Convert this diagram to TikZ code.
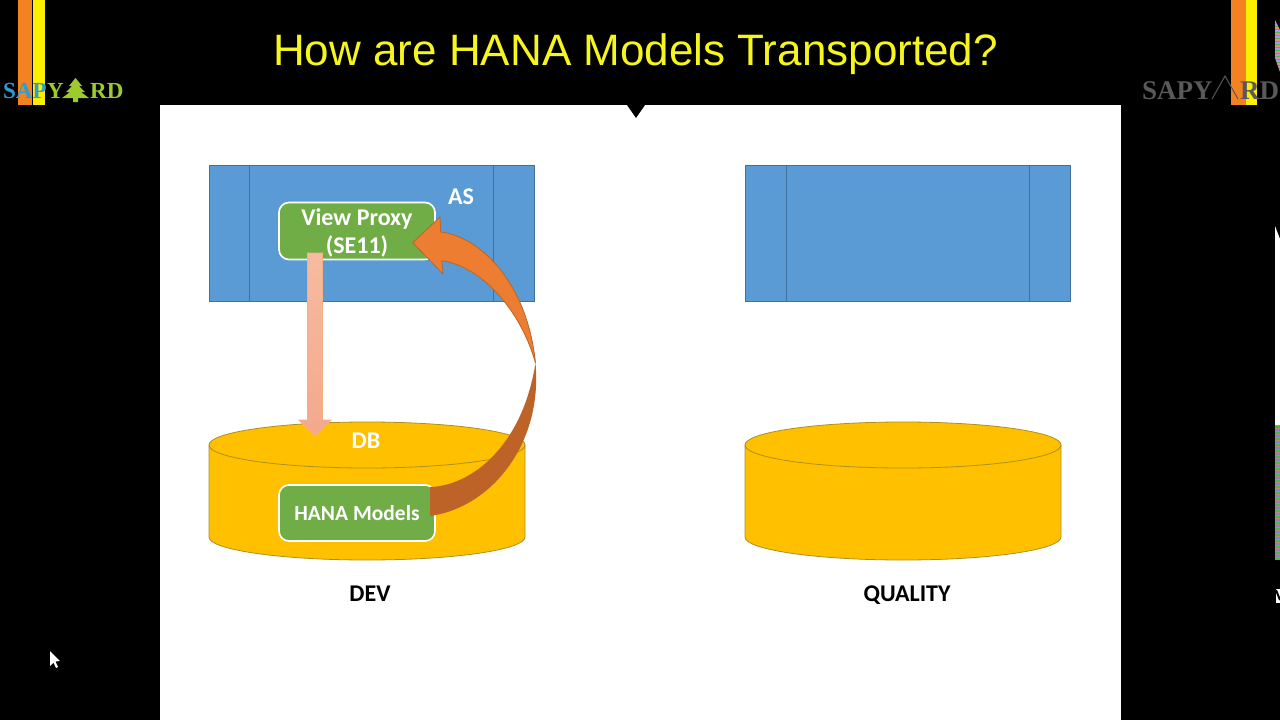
\documentclass[tikz,border=0pt]{standalone}
\usepackage{fontspec}
\setmainfont{Carlito}
\newfontfamily\titlefont{Liberation Sans}
\newfontfamily\logofont{Liberation Serif}
\usetikzlibrary{calc}
\definecolor{asblue}{HTML}{5B9BD5}
\definecolor{asline}{HTML}{41719C}
\definecolor{dbgold}{HTML}{FFC000}
\definecolor{dbline}{HTML}{AD8F22}
\definecolor{boxgreen}{HTML}{70AD47}
\definecolor{arrorange}{HTML}{ED7D31}
\definecolor{arrbrown}{HTML}{BE6328}
\definecolor{arrline}{HTML}{B8662A}
\definecolor{paletop}{HTML}{F6BBA0}
\definecolor{palebot}{HTML}{F4A88C}
\definecolor{palerim}{HTML}{F4B183}
\definecolor{stripeor}{HTML}{F58220}
\definecolor{stripeye}{HTML}{FBEE00}
\definecolor{titleyellow}{HTML}{F6F61E}
\definecolor{logoblue}{HTML}{2A9FD6}
\definecolor{logogreen}{HTML}{9BCB2D}
\definecolor{ghost}{HTML}{595959}
\tikzset{
  asrect/.style={fill=asblue,draw=asline,line width=0.8pt},
  asdiv/.style={draw=asline,line width=0.8pt},
  dbshape/.style={fill=dbgold,draw=dbline,line width=0.8pt},
  dbrim/.style={draw=dbline,line width=0.8pt},
  greenbox/.style={fill=boxgreen,draw=white,line width=1.6pt,rounded corners=10pt,
    align=center,text=white,inner sep=0pt},
  whitelabel/.style={text=white,font=\fontsize{24}{26}\selectfont\bfseries,inner sep=0pt},
  blacklabel/.style={text=black,font=\fontsize{24}{26}\selectfont\bfseries,inner sep=0pt},
  logotext/.style={font=\fontsize{23}{25}\logofont\bfseries,inner sep=0pt,anchor=base west},
  ghosttext/.style={text=ghost,font=\fontsize{27}{27}\logofont\bfseries,inner sep=0pt,anchor=base west},
}
\newcommand{\dbcylinder}{%
  \draw[dbshape] (209,445) -- (209,537)
    .. controls (209,549.7) and (279.7,560) .. (367,560)
    .. controls (454.3,560) and (525,549.7) .. (525,537)
    -- (525,445)
    .. controls (525,432.3) and (454.3,422) .. (367,422)
    .. controls (279.7,422) and (209,432.3) .. (209,445) -- cycle;
  \draw[dbrim] (209,445)
    .. controls (209,457.7) and (279.7,468) .. (367,468)
    .. controls (454.3,468) and (525,457.7) .. (525,445);
}
\begin{document}
\begin{tikzpicture}[x=1pt,y=-1pt]
\useasboundingbox (0,0) rectangle (1280,720);
\fill[black] (0,0) rectangle (1280,720);
\fill[white] (160,105) rectangle (1121,720);
% notch
\fill[black] (627,105) -- (645,105) -- (636,118) -- cycle;
% title
\node[text=titleyellow,font=\fontsize{44}{48}\titlefont,inner sep=0pt,anchor=base] (title) at (635.5,65) {How are HANA Models Transported?};
% left logo stripes
\fill[stripeor] (18,0) rectangle (32,105);
\fill[stripeye] (33,0) rectangle (44.5,105);
\node[logotext,text=logoblue] (lsap) at (3,98) {SAP};
\node[logotext,text=logogreen] (ly) at (47,98) {Y};
\fill[logogreen] (75.5,78) -- (82,86) -- (79,86) -- (85,92) -- (81,92) -- (89,98) -- (78,98) -- (78,102) -- (73,102) -- (73,98) -- (62,98) -- (70,92) -- (66,92) -- (72,86) -- (69,86) -- cycle;
\node[logotext,text=logogreen] (lrd) at (90,98) {RD};
% right logo stripes
\fill[stripeor] (1231,0) rectangle (1245.5,105);
\fill[stripeye] (1246,0) rectangle (1257,105);
\begin{scope}
\clip (1130,70) rectangle (1280,105);
\node[ghosttext] (rsap) at (1142,99) {SAPY};
\draw[ghost,line width=1pt] (1212,99) -- (1225,76) -- (1238,99);
\node[ghosttext] (rrd) at (1240,99) {RD};
\end{scope}
% right edge artefacts
\begin{scope}
\clip (1275,20) -- (1280,30) -- (1280,72) -- (1275,58) -- cycle;
\foreach \i in {0,...,17}{
  \fill[red!50!white]  (1275,{19+3*\i}) rectangle (1280,{20+3*\i});
  \fill[green!50!gray] (1275,{20+3*\i}) rectangle (1280,{21+3*\i});
  \fill[blue!40!white] (1275,{21+3*\i}) rectangle (1280,{22+3*\i});
}
\end{scope}
\fill[white] (1275,226) -- (1280,239) -- (1280,425) -- (1275,425) -- cycle;
\foreach \i in {0,...,44}{
  \fill[red!40!gray!70!white]  (1275,{425+3*\i}) rectangle (1280,{426+3*\i});
  \fill[green!50!gray]         (1275,{426+3*\i}) rectangle (1280,{427+3*\i});
  \fill[blue!40!gray!70!white] (1275,{427+3*\i}) rectangle (1280,{428+3*\i});
}
\fill[white] (1276,589) rectangle (1280,603);
\draw[black,line width=2pt] (1276,590) -- (1280,600);
% AS boxes
\draw[asrect] (209.5,165.5) rectangle (534,301.5);
\draw[asdiv] (249.5,165.5) -- (249.5,301.5) (493,165.5) -- (493,301.5);
\draw[asrect] (745.5,165.5) rectangle (1070.5,301.5);
\draw[asdiv] (786.5,165.5) -- (786.5,301.5) (1029.5,165.5) -- (1029.5,301.5);
% cylinders
\dbcylinder
\begin{scope}[xshift=536pt]
\dbcylinder
\end{scope}
% green boxes
\node[greenbox,minimum width=156pt,minimum height=57pt,font=\fontsize{24}{28}\selectfont\bfseries] (proxy) at (357,231) {\rule{0pt}{20pt}View Proxy\\(SE11)};
\node[greenbox,minimum width=156pt,minimum height=56pt,font=\fontsize{21.5}{24}\selectfont\bfseries] (hana) at (357,513) {HANA Models};
% labels
\node[whitelabel] (as) at (461,197) {AS};
\node[whitelabel] (db) at (366,441) {DB};
\node[blacklabel] (dev) at (370,594) {DEV};
\node[blacklabel] (qual) at (907,595) {QUALITY};
% pale straight block arrow, proxy -> cylinder
\coordinate (pstart) at (315,253);
\coordinate (pend) at (315,436);
\draw[draw=palerim,line width=0.8pt,top color=paletop,bottom color=palebot]
  ($(pstart)+(-7.5,0)$) -- ($(pstart)+(7.5,0)$) -- ($(pend)+(7.5,-16)$) -- ($(pend)+(16,-16)$)
  -- (pend) -- ($(pend)+(-16,-16)$) -- ($(pend)+(-7.5,-16)$) -- cycle;
% curved block arrow, hana -> proxy
\coordinate (ctip) at (412.7,242.7);
\coordinate (cbaseA) at (430,487);
\coordinate (cbaseB) at (430,516);
\coordinate (cturn) at (535.5,363);
\fill[arrbrown] (cbaseA) .. controls (470,486) and (522,448) .. (cturn)
  .. controls (543,445) and (490,508) .. (cbaseB) -- cycle;
\draw[draw=arrline,line width=0.8pt,fill=arrorange] (ctip) -- (440,217) -- (440.7,232)
  .. controls (478,236) and (527,280) .. (cturn)
  .. controls (520,308) and (480,266) .. (441.7,260.7)
  -- (443,274) -- cycle;
% cursor
\fill[white] (50,651) -- (50,666) -- (53.5,662.5) -- (56,668) -- (58,667) -- (55.5,661.5) -- (60,661) -- cycle;
\end{tikzpicture}
\end{document}
